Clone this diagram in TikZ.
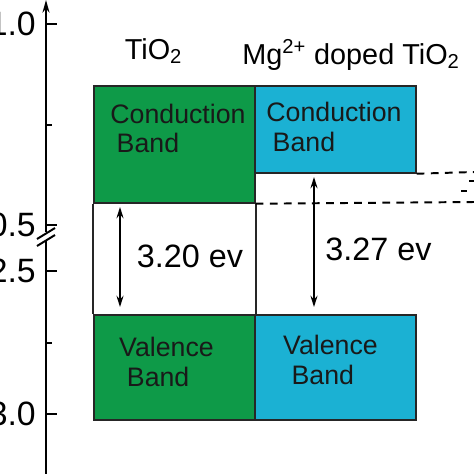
\documentclass[tikz,border=0pt]{standalone}
\usepackage{fontspec}
\setmainfont{Liberation Sans}
\usepackage{xcolor}
\usepackage{tikz}
\usetikzlibrary{arrows.meta, positioning}

\definecolor{bandgreen}{RGB}{14,154,72}
\definecolor{bandblue}{RGB}{27,177,211}

\begin{document}
\begin{tikzpicture}[
    x=0.025cm, y=-0.025cm,
    bandG/.style={rectangle, draw=black!85, line width=1.2pt, fill=bandgreen,
                  inner sep=0pt, anchor=north west},
    bandB/.style={rectangle, draw=black!85, line width=1.2pt, fill=bandblue,
                  inner sep=0pt, anchor=north west},
    bandtxt/.style={align=left, inner sep=0pt, text=black!90,
                    font=\fontsize{19}{21}\selectfont},
    head/.style={anchor=base, inner sep=0pt, font=\fontsize{20.5}{24}\selectfont},
    gaptxt/.style={anchor=base, inner sep=0pt, font=\fontsize{23}{27}\selectfont},
    ticklab/.style={anchor=east, inner sep=0pt, font=\fontsize{24}{28}\selectfont},
    axisline/.style={line width=1.4pt, black},
    gaparr/.style={{Stealth[length=8pt,width=5pt]}-{Stealth[length=8pt,width=5pt]},
                   line width=1.2pt},
    edge/.style={line width=1.2pt, black!85},
    lvl/.style={line width=1.4pt, dash pattern=on 5.5pt off 4.5pt}
  ]
    \useasboundingbox (0,0) rectangle (474,474);

    %% ── Energy axis with break
    \coordinate (axbot)   at (46,474);
    \coordinate (axbrklo) at (46,241);
    \coordinate (axbrkhi) at (46,232);
    \coordinate (axtop)   at (46,0);
    \draw[axisline] (axbot) -- (axbrklo);
    \draw[axisline, -{Stealth[length=9pt,width=5pt]}] (axbrkhi) -- (axtop);
    \draw[axisline] (37,239) -- (55,228);
    \draw[axisline] (37,246) -- (55,235);

    %% Ticks and tick labels
    \foreach \yy/\lab in {24/1.0, 225/0.5, 271/2.5, 414/3.0} {
      \draw[axisline] (46,\yy) -- (57,\yy);
      \node[ticklab] at (36,\yy) {\lab};
    }
    \foreach \yy in {125, 343} {
      \draw[axisline] (46,\yy) -- (52,\yy);
    }

    %% ── Headings
    \node[head] (hTi) at (153.5,59) {TiO\textsubscript{2}};
    \node[head] (hMg) at (351,64) {Mg\textsuperscript{2+} doped TiO\textsubscript{2}};

    %% ── Bands
    \node[bandG, minimum width=4.025cm, minimum height=2.925cm] (cbTi) at (93,85) {};
    \node[bandB, minimum width=4.025cm, minimum height=2.175cm] (cbMg) at (254,85) {};
    \node[bandG, minimum width=4.025cm, minimum height=2.625cm] (vbTi) at (93,314) {};
    \node[bandB, minimum width=4.025cm, minimum height=2.625cm] (vbMg) at (254,314) {};

    \node[bandtxt] (tcbTi) at (178,128.5) {Conduction\\\hspace*{4.5pt}Band};
    \node[bandtxt] (tcbMg) at (334,127)   {Conduction\\\hspace*{4.5pt}Band};
    \node[bandtxt] (tvbTi) at (166.5,362) {Valence\\\hspace*{5.5pt}Band};
    \node[bandtxt] (tvbMg) at (330.5,360) {Valence\\\hspace*{6pt}Band};

    %% Gap outline below TiO2 conduction band
    \draw[edge] (cbTi.south west) -- (vbTi.north west);
    \draw[edge] (cbTi.south east) -- (vbTi.north east);

    %% Band edge levels (dashed)
    \coordinate (lvlA) at (474,202);
    \coordinate (lvlB) at (474,172);
    \draw[lvl] (cbTi.south east) -- (lvlA);
    \draw[lvl] (cbMg.south east) -- (lvlB);
    \draw[line width=1.2pt] (469,181) -- (474,181);
    \draw[line width=1.2pt] (461,191) -- (467,191);

    %% ── Band gap arrows
    \coordinate (gTitop) at (120,207);
    \coordinate (gTibot) at (120,307);
    \coordinate (gMgtop) at (314,177);
    \coordinate (gMgbot) at (314,307);
    \draw[gaparr] (gTitop) -- (gTibot);
    \draw[gaparr] (gMgtop) -- (gMgbot);

    \node[gaptxt] (eTi) at (190,267) {3.20 ev};
    \node[gaptxt] (eMg) at (378.5,260) {3.27 ev};

  \end{tikzpicture}
\end{document}
